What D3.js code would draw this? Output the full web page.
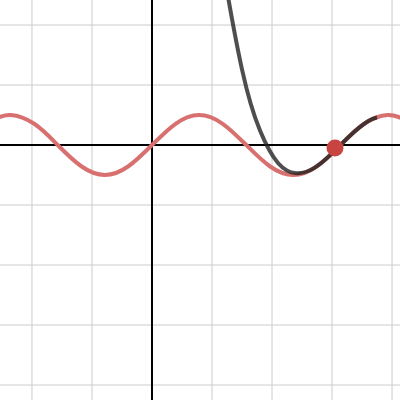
<!DOCTYPE html>
<html><head><meta charset="utf-8">
<script src="https://cdn.jsdelivr.net/npm/d3@7"></script>
<style>body{margin:0;background:#fff}</style></head>
<body><svg id="g" width="400" height="400"></svg>
<script>
// values (graph units)
const redX = [-2.6,-2.356,-1.963,-1.571,-1.178,-0.785,-0.393,0,0.393,0.785,1.178,1.571,1.963,2.356,2.749,3.142,3.534,3.927,4.2];
const redY = [0.44,0.5,0.354,0,-0.354,-0.5,-0.354,0,0.354,0.5,0.354,0,-0.354,-0.5,-0.354,0,0.354,0.5,0.43];
const darkX = [1.1,1.2,1.5,1.8,2.1,2.4,2.7,3.0,3.3,3.6,3.75];
const darkY = [3.5,2.86,1.26,0.24,-0.30,-0.47,-0.385,-0.14,0.156,0.396,0.46];
const dot = [3.05, -0.05];
const gridTicks = [-3,-2,-1,0,1,2,3,4];
const gridTicksY = [-5,-4,-3,-2,-1,0,1,2];

const svg = d3.select("#g");
const x = d3.scaleLinear().domain([-2.533, 4.133]).range([0, 400]);
const y = d3.scaleLinear().domain([-4.25, 2.417]).range([400, 0]);

svg.selectAll(".gx").data(gridTicks).join("line")
  .attr("x1", d => x(d)).attr("x2", d => x(d)).attr("y1", 0).attr("y2", 400)
  .attr("stroke", "#ccc").attr("stroke-width", 1);
svg.selectAll(".gy").data(gridTicksY).join("line")
  .attr("y1", d => y(d)).attr("y2", d => y(d)).attr("x1", 0).attr("x2", 400)
  .attr("stroke", "#ccc").attr("stroke-width", 1);
svg.append("line").attr("x1", x(0)).attr("x2", x(0)).attr("y1", 0).attr("y2", 400).attr("stroke", "#000").attr("stroke-width", 2);
svg.append("line").attr("y1", y(0)).attr("y2", y(0)).attr("x1", 0).attr("x2", 400).attr("stroke", "#000").attr("stroke-width", 2);

const line = d3.line().x(d => x(d[0])).y(d => y(d[1])).curve(d3.curveNatural);
svg.append("path").datum(d3.zip(redX, redY)).attr("d", line)
  .attr("fill", "none").attr("stroke", "#d87070").attr("stroke-width", 4);
svg.append("path").datum(d3.zip(darkX, darkY)).attr("d", line)
  .attr("fill", "none").attr("stroke", "#222").attr("stroke-opacity", 0.8).attr("stroke-width", 4);
svg.append("circle").attr("cx", x(dot[0])).attr("cy", y(dot[1])).attr("r", 8.5).attr("fill", "#c74440");
</script></body></html>
